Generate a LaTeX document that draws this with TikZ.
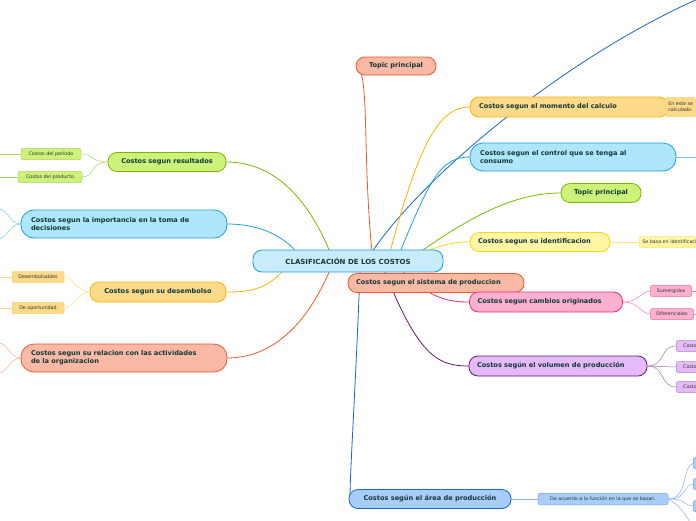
\documentclass[tikz,border=0pt]{standalone}
\usepackage{fontspec}
\setmainfont{DejaVu Sans}
\begin{document}
\begin{tikzpicture}[x=1pt,y=-1pt,
 mn/.style={draw,line width=0.8pt,rounded corners=9pt,minimum height=19pt,font=\fontsize{6.6}{8}\selectfont\bfseries,text=tx,inner xsep=8pt},
 sn/.style={draw,line width=0.5pt,rounded corners=2pt,minimum height=11pt,font=\fontsize{4.8}{5.8}\selectfont,text=black!80,inner xsep=3pt},
 ln/.style={line width=0.8pt},
 tn/.style={line width=0.5pt}]
\definecolor{tx}{HTML}{123838}
\definecolor{gF}{HTML}{CDF27A}\definecolor{gD}{HTML}{7AB800}
\definecolor{bF}{HTML}{AEE6FB}\definecolor{bD}{HTML}{1AA0E0}
\definecolor{oF}{HTML}{FDD98A}\definecolor{oD}{HTML}{F7B500}
\definecolor{sF}{HTML}{F9B9A5}\definecolor{sD}{HTML}{E85A2A}
\definecolor{yF}{HTML}{FFF5A5}\definecolor{yD}{HTML}{F4D81A}
\definecolor{pF}{HTML}{FDB0D0}\definecolor{pD}{HTML}{E8307A}
\definecolor{vF}{HTML}{E6BAF8}\definecolor{vD}{HTML}{5A1A6E}
\definecolor{aF}{HTML}{A8CDF8}\definecolor{aD}{HTML}{1A66D0}
\definecolor{cF}{HTML}{C8ECFB}
\useasboundingbox (0,0) rectangle (696,520);
\clip (0,0) rectangle (696,520);
\coordinate (hub) at (372,252);
\coordinate (tr) at (700,-2);
\draw[ln,sD] (hub) .. controls (362,150) and (370,70) .. (356,66);
\draw[ln,aD] (hub) .. controls (420,180) and (560,60) .. (tr);
\draw[ln,oD] (390,252) .. controls (420,140) and (440,107) .. (470,107);
\draw[ln,bD] (400,252) .. controls (430,180) and (440,157) .. (470,157);
\draw[ln,gD] (420,252) .. controls (480,210) and (520,193) .. (561,193);
\draw[ln,yD] (430,250) .. controls (450,242) and (460,242) .. (470,242);
\draw[ln,pD] (400,268) .. controls (430,300) and (450,302) .. (470,302);
\draw[ln,vD] (385,272) .. controls (420,360) and (440,366) .. (470,366);
\draw[ln,aD] (360,272) .. controls (355,400) and (350,470) .. (350,499);
\draw[ln,gD] (330,252) .. controls (300,180) and (260,162) .. (226,162);
\draw[ln,bD] (300,256) .. controls (280,230) and (250,224) .. (227,224);
\draw[ln,oD] (290,262) .. controls (270,290) and (250,292) .. (226,292);
\draw[ln,sD] (330,270) .. controls (300,340) and (260,358) .. (227,358);
\draw[tn,oD!50] (667,107) -- (630,107);
\draw[tn,bD!60] (676,157) -- (700,157);
\draw[tn,yD!60] (640,242) -- (610,242);
\draw[tn,pD!60] (623,302) .. controls (640,302) and (640,291) .. (651,291);
\draw[tn,pD!60] (623,302) .. controls (640,302) and (640,314) .. (651,314);
\draw[tn,pD!60] (692,291) -- (700,291);\draw[tn,pD!60] (694,314) -- (700,314);
\draw[tn,vD!60] (648,366) .. controls (665,366) and (660,346) .. (676,346);
\draw[tn,vD!60] (648,366) -- (676,367);
\draw[tn,vD!60] (648,366) .. controls (665,366) and (660,387) .. (676,387);
\draw[tn,aD!50] (511,499) -- (538,499);
\draw[tn,aD!50] (668,499) .. controls (690,499) and (680,463) .. (696,463);
\draw[tn,aD!50] (668,499) .. controls (690,499) and (680,484) .. (696,484);
\draw[tn,aD!50] (668,499) .. controls (690,499) and (680,506) .. (696,506);
\draw[tn,aD!50] (668,499) .. controls (680,505) and (685,515) .. (690,522);
\draw[tn,gD!60] (108,162) .. controls (90,162) and (95,154) .. (80,154);
\draw[tn,gD!60] (108,162) .. controls (90,162) and (95,177) .. (82,177);
\draw[tn,gD!60] (21,154) -- (0,154);\draw[tn,gD!60] (18,177) -- (0,177);
\draw[tn,bD!60] (21,224) .. controls (10,224) and (10,212) .. (-2,208);
\draw[tn,bD!60] (21,224) .. controls (10,224) and (10,235) .. (-2,240);
\draw[tn,oD!50] (91,292) .. controls (75,292) and (75,277) .. (64,277);
\draw[tn,oD!50] (91,292) .. controls (75,292) and (75,308) .. (64,308);
\draw[tn,oD!50] (12,277) -- (0,277);\draw[tn,oD!50] (12,308) -- (0,308);
\draw[tn,sD!50] (21,358) .. controls (10,358) and (10,346) .. (-2,342);
\draw[tn,sD!50] (21,358) .. controls (10,358) and (10,370) .. (-2,374);
\node[mn,fill=cF,draw=bD,minimum width=190pt,font=\fontsize{7}{8}\selectfont\bfseries,minimum height=22pt] (c) at (348,261) {CLASIFICACIÓN DE LOS COSTOS};
\node[mn,fill=sF,draw=sD,minimum width=80pt,minimum height=18pt] (tp1) at (396,66) {Topic principal};
\node[mn,fill=oF,draw=oD,minimum width=198pt,minimum height=20pt,align=left,text width=180pt] (mom) at (569,107) {Costos segun el momento del calculo};
\node[mn,fill=bF,draw=bD,minimum width=206pt,minimum height=28pt,rounded corners=13pt,align=left,text width=186pt] (ctl) at (573,157) {Costos segun el control que se tenga al\\consumo};
\node[mn,fill=gF,draw=gD,minimum width=80pt] (tp2) at (601,193) {Topic principal};
\node[mn,fill=yF,draw=yD,minimum width=140pt,align=left,text width=124pt] (ide) at (540,242) {Costos segun su identificacion};
\node[mn,fill=sF,draw=sD,minimum width=175pt,align=left,text width=160pt] (sis) at (436,283) {Costos segun el sistema de produccion};
\node[mn,fill=pF,draw=pD,minimum width=153pt,minimum height=20pt,align=left,text width=137pt] (cam) at (546,302) {Costos segun cambios originados};
\node[mn,fill=vF,draw=vD,minimum width=178pt,minimum height=20pt,align=left,text width=162pt] (vol) at (558,366) {Costos según el volumen de producción};
\node[mn,fill=aF,draw=aD,minimum width=162pt] (are) at (430,499) {Costos según el área de producción};
\node[mn,fill=gF,draw=gD,minimum width=118pt] (res) at (167,162) {Costos segun resultados};
\node[mn,fill=bF,draw=bD,minimum width=206pt,minimum height=28pt,rounded corners=13pt,align=left,text width=186pt] (imp) at (124,224) {Costos segun la importancia en la toma de\\decisiones};
\node[mn,fill=oF,draw=oD,minimum width=136pt,minimum height=20pt] (des) at (158,292) {Costos segun su desembolso};
\node[mn,fill=sF,draw=sD,minimum width=206pt,minimum height=28pt,rounded corners=13pt,align=left,text width=186pt] (rel) at (124,358) {Costos segun su relacion con las actividades\\de la organizacion};
\node[sn,fill=gF,draw=gD!60,minimum width=60pt] (s1) at (51,154) {Costos del periodo};
\node[sn,fill=gF,draw=gD!60,minimum width=64pt] (s2) at (50,177) {Costos del producto};
\node[sn,fill=oF,draw=oD!60,minimum width=52pt] (s3) at (38,277) {Desembolsables};
\node[sn,fill=oF,draw=oD!60,minimum width=52pt] (s4) at (38,308) {De oportunidad};
\node[sn,fill=oF,draw=oD!60,anchor=west,align=left,minimum height=19pt] (s5) at (665,107) {En este se\\calculado.};
\node[sn,fill=yF,draw=yD!60,anchor=west] (s6) at (639,242) {Se basa en identificación};
\node[sn,fill=pF,draw=pD!70,minimum width=41pt] (s7) at (671,291) {Sumergidos};
\node[sn,fill=pF,draw=pD!70,minimum width=43pt] (s8) at (672,314) {Diferenciales};
\node[sn,fill=vF,draw=vD!50,anchor=west,minimum width=30pt] (s9) at (676,346) {Costos};
\node[sn,fill=vF,draw=vD!50,anchor=west,minimum width=30pt] (s10) at (676,367) {Costos};
\node[sn,fill=vF,draw=vD!50,anchor=west,minimum width=30pt] (s11) at (676,387) {Costos};
\node[sn,fill=aF,draw=aD!60,minimum width=130pt] (s12) at (603,499) {De acuerdo a la función en la que se basan.};
\node[sn,fill=aF,draw=aD!60,anchor=west,minimum width=20pt] (s13) at (693,463) {};
\node[sn,fill=aF,draw=aD!60,anchor=west,minimum width=20pt] (s14) at (693,484) {};
\node[sn,fill=aF,draw=aD!60,anchor=west,minimum width=20pt] (s15) at (693,506) {};
\end{tikzpicture}
\end{document}
